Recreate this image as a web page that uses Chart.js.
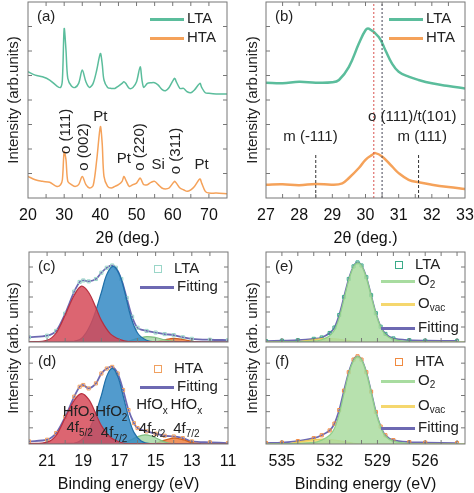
<!DOCTYPE html>
<html>
<head>
<script src="https://cdn.jsdelivr.net/npm/chart.js@4.4.1/dist/chart.umd.min.js"></script>
<style>
  body { margin: 0; background: #fff; font-family: "Liberation Sans", Arial, sans-serif; }
  #wrap { position: relative; width: 474px; height: 493px; overflow: hidden; }
  canvas { position: absolute; }
  .yt { position: absolute; font-size: 15px; color: #222; white-space: nowrap; transform: translate(-50%, -50%) rotate(-90deg); }
  .lg { position: absolute; font-size: 15px; color: #222; white-space: nowrap; line-height: 15px; }
  .ln { display: inline-block; width: 34px; height: 3px; vertical-align: middle; margin-right: 3px; }
  .sq { display: inline-block; width: 6px; height: 6px; border: 1.5px solid; vertical-align: middle; margin: 0 12px 0 14px; }
  sub { font-size: 10px; vertical-align: -3px; }
</style>
</head>
<body>
<div id="wrap"></div>
<script>
// ---- (a) XRD wide scan ----
const aX   = [20,22,24,26,28,29,29.5,30,30.5,31,32,33,34,35,36,37,38,39,40,40.5,41,42,43,44,45,46,46.5,47,48,49,50,51,51.5,52,53,54,55,56,57,58,59,60.5,61,62,63,64,65,66,67.5,68,69,70,72,75];
const aLTA = [64.4,62.7,61.9,60.2,57.1,56.4,60.2,86.4,75.4,61.0,57.1,56.4,58.5,65.3,59.3,56.4,58.5,65.3,73.7,68.6,60.2,56.4,55.9,55.9,57.1,58.5,59.3,58.5,55.9,56.4,59.3,66.9,60.2,56.4,58.5,58.8,58.8,57.6,55.4,54.7,56.4,61.0,59.3,55.9,55.9,54.2,53.7,55.1,58.5,56.4,53.7,53.4,53.1,53.1];
const aHTA = [11.0,9.3,8.5,8.0,5.9,6.8,9.3,23.7,19.5,8.5,6.8,5.9,6.8,11.0,6.8,5.1,6.3,19.5,36.4,28.0,11.0,5.9,5.1,5.9,6.8,8.5,11.0,9.3,5.9,6.8,7.6,10.2,8.5,6.8,6.8,8.0,8.5,6.8,5.1,4.6,5.1,8.5,7.6,5.1,4.2,3.4,4.2,5.9,9.7,7.6,3.4,2.5,2.5,2.2];
const aNotes = [
  {x:30.5, y:34, t:'o (111)', rot:true}, {x:35.5, y:26, t:'o (002)', rot:true},
  {x:40, y:41.5, t:'Pt'}, {x:46.5, y:20, t:'Pt'}, {x:51, y:26, t:'o (220)', rot:true},
  {x:56, y:17, t:'Si'}, {x:61, y:24, t:'o (311)', rot:true}, {x:68, y:17, t:'Pt'}
];

// ---- (b) XRD zoom ----
const bX_LTA = [27,27.5,28,28.5,29,29.2,29.5,29.8,30,30.1,30.4,30.6,30.8,31,31.3,31.6,32,32.5,33];
const bLTA   = [58.8,58.5,59.3,58.8,59.0,60.2,66.9,78.8,85.6,86.4,82.2,75.4,68.6,64.4,61.9,60.2,58.5,57.1,55.9];
const bX_HTA = [27,27.5,28,28.5,29,29.3,29.5,29.8,30,30.2,30.3,30.5,30.8,31,31.3,31.6,32,32.5,33];
const bHTA   = [6.8,7.0,6.5,7.2,6.8,7.5,10.2,15.3,19.5,22.0,22.9,21.2,16.1,12.7,9.3,8.0,6.8,5.6,4.6];
const bRefM  = [28.5, 31.6];   // m (-111), m (111)
const bRefO  = 30.25, bRefT = 30.5;
const bNotes = [
  {x:28.34, y:31.4, t:'m (-111)'}, {x:31.41, y:41.5, t:'o (111)/t(101)'}, {x:31.71, y:31.4, t:'m (111)'}
];

// ---- (c) Hf 4f LTA ----
const cX    = [22,21,20.5,20,19.5,19.2,19,18.7,18.3,18,17.7,17.4,17.2,16.9,16.6,16.3,16,15.5,15,14.5,14,13.5,13,12,11];
const cData = [5.3,7,12.3,31.6,56,66.7,68.4,67.4,70,77,82.5,85,82.5,70,49,28,15.8,12.3,10.5,8.8,7.7,5.3,3.5,2.5,2.1];
const cRedX = [22,21,20.5,20,19.5,19.1,18.7,18.3,18,17.5,17,16.5,11];
const cRed  = [0.3,2,10,30,52,62,55,38,24,9,3,0.5,0];
const cBluX = [22,19.5,19,18.5,18,17.7,17.35,17,16.7,16.4,16,15.5,15,11];
const cBlu  = [0,1,6,24,55,75,84,75,55,30,10,2,0.3,0];
const cGrnX = [17,16.5,16,15.5,15,14.5,14,13.5];
const cGrn  = [0,1,4,6,5,2.5,0.8,0];
const cOrgX = [15,14.5,14,13.5,13,12.5];
const cOrg  = [0.3,2.5,4,2.8,0.8,0];

// ---- (d) Hf 4f HTA ----
const dX    = [22,21,20.5,20,19.5,19.2,19,18.7,18.3,18,17.7,17.4,17.1,16.8,16.5,16.2,16,15.5,15,14.5,14,13.5,13,12,11];
const dData = [2.7,4.4,11.3,28,48.8,59,60.8,57.3,62.5,72.7,77.8,79.5,72.7,55.6,35,21.5,16.4,13,10.6,8.5,7.8,6.1,2.7,1.7,1];
const dRedX = [22,21,20.5,20,19.5,19.1,18.7,18.3,18,17.5,17,16.5,11];
const dRed  = [0.3,2,9,27,45,52,46,31,19,7,2,0.3,0];
const dBluX = [22,19.5,19,18.5,18,17.7,17.4,17.1,16.8,16.5,16.2,15.8,15.3,11];
const dBlu  = [0,1,6,22,50,70,78,70,50,28,12,3,0.3,0];
const dGrnX = [17,16.5,16,15.6,15.2,14.8,14.4,14];
const dGrn  = [0.5,3,7.5,9.5,8,4.5,1.5,0.3];
const dOrgX = [15,14.5,14,13.5,13,12.5];
const dOrg  = [0.5,4,6,4.5,1.5,0.2];
const dNotes = [
  {x:19.25, y:33, t:'HfO', s:'2'}, {x:19.2, y:17, t:'4f', s:'5/2'},
  {x:17.45, y:33, t:'HfO', s:'2'}, {x:17.3, y:11, t:'4f', s:'7/2'},
  {x:15.2, y:40, t:'HfO', s:'x'}, {x:15.2, y:16, t:'4f', s:'5/2'},
  {x:13.3, y:40, t:'HfO', s:'x'}, {x:13.3, y:16, t:'4f', s:'7/2'}
];

// ---- (e) O 1s LTA ----
const eX    = [536,535,534,533,532.5,532,531.7,531.4,531.1,530.8,530.5,530.25,530,529.7,529.4,529.1,528.8,528.5,528,527,526,524];
const eData = [1,1.5,2,3.5,5,10,16,30,50,70,84,88.4,85,72,52,32,17,9,4,2,1.5,1.2];
const eO2X  = [536,533,532.5,532,531.7,531.4,531.1,530.8,530.5,530.25,530,529.7,529.4,529.1,528.8,528.5,528,527,526,523.5];
const eO2   = [0,1,2.5,7,13,27,48,69,84,88,85,72,52,32,17,8,3,0.5,0,0];
const eVacX = [536,534,533,532.3,531.7,531,530.5,530,523.5];
const eVac  = [0,0.5,2.5,4,3.5,2,0.8,0.2,0];

// ---- (f) O 1s HTA ----
const fX    = [536,535,534,533,532.5,532,531.7,531.4,531.1,530.8,530.5,530.25,530,529.7,529.4,529.1,528.8,528.5,528,527,526,524];
const fData = [1,1.5,3,6,9,14,21,35,55,74,87,90.4,87,74,54,33,18,9,4,2,1.5,1];
const fO2X  = [536,533,532.5,532,531.7,531.4,531.1,530.8,530.5,530.25,530,529.7,529.4,529.1,528.8,528.5,528,527,526,523.5];
const fO2   = [0,1.5,4,9,16,31,52,73,86,90,87,74,54,33,18,8,3,0.5,0,0];
const fVacX = [536,534.5,534,533,532.3,531.7,531,530.5,530,523.5];
const fVac  = [0,0.5,2,4.5,5,4,2.2,0.8,0.2,0];

const GREEN = '#5bbd9c', ORANGE = '#f5a25a', PURPLE = '#6d69b2';
const pts = (xs, ys) => xs.map((x, i) => ({x, y: ys[i]}));
const line = (xs, ys, color, w) => ({data: pts(xs, ys), borderColor: color, borderWidth: w || 1.5, pointRadius: 0, tension: 0.3});
const area = (xs, ys, fill, edge) => ({data: pts(xs, ys), borderColor: edge, borderWidth: 1.2, backgroundColor: fill, fill: 'origin', pointRadius: 0, tension: 0.35});
const marks = (xs, ys, color) => ({data: pts(xs, ys), showLine: false, pointStyle: 'rect', pointRadius: 2.2, borderWidth: 1, borderColor: color, backgroundColor: 'rgba(0,0,0,0)'});

// frame + inward ticks + text notes
const framePlugin = {
  id: 'frame',
  afterDatasetsDraw(chart, args, o) {
    const c = chart.ctx, a = chart.chartArea, xs = chart.scales.x;
    c.save();
    c.strokeStyle = '#777'; c.lineWidth = 1;
    c.strokeRect(a.left, a.top, a.right - a.left, a.bottom - a.top);
    const tl = 4;
    for (let v = o.x0; v <= o.x1 + 1e-9; v += o.xStep) {
      const p = xs.getPixelForValue(v);
      if (p < a.left + 1 || p > a.right - 1) continue;
      c.beginPath();
      c.moveTo(p, a.bottom); c.lineTo(p, a.bottom - tl);
      if (o.topTicks) { c.moveTo(p, a.top); c.lineTo(p, a.top + tl); }
      c.stroke();
    }
    for (let i = 1; i < o.yN; i++) {
      const p = a.bottom - (a.bottom - a.top) * i / o.yN;
      c.beginPath(); c.moveTo(a.left, p); c.lineTo(a.left + tl, p);
      c.moveTo(a.right, p); c.lineTo(a.right - tl, p); c.stroke();
    }
    c.fillStyle = '#222'; c.textBaseline = 'middle';
    (o.notes || []).forEach(n => {
      const px = xs.getPixelForValue(n.x), py = chart.scales.y.getPixelForValue(n.y);
      c.save(); c.translate(px, py); if (n.rot) c.rotate(-Math.PI / 2);
      c.font = '15px "Liberation Sans", Arial';
      const w1 = c.measureText(n.t).width;
      c.font = '10px "Liberation Sans", Arial';
      const w2 = n.s ? c.measureText(n.s).width : 0;
      let x0 = -(w1 + w2) / 2;
      c.font = '15px "Liberation Sans", Arial'; c.textAlign = 'left';
      c.fillText(n.t, x0, 0);
      if (n.s) { c.font = '10px "Liberation Sans", Arial'; c.fillText(n.s, x0 + w1, 6); }
      c.restore();
    });
    if (o.tag) {
      c.font = '15px "Liberation Sans", Arial'; c.textAlign = 'left';
      c.fillText(o.tag, a.left + 9, a.top + 15);
    }
    c.restore();
  }
};

function panel(L, T, W, H, cfg) {
  const axisH = cfg.showX ? 50 : 0;
  const cv = document.createElement('canvas');
  cv.width = W + 40; cv.height = H + 20 + axisH;
  cv.style.left = (L - 20) + 'px'; cv.style.top = (T - 20) + 'px';
  document.getElementById('wrap').appendChild(cv);
  new Chart(cv, {
    type: 'line',
    data: {datasets: cfg.datasets},
    options: {
      responsive: false, animation: false,
      layout: {padding: {left: 20, right: 20, top: 20, bottom: 0}},
      plugins: {legend: {display: false}, tooltip: {enabled: false}, frame: cfg.frame},
      scales: {
        x: {
          type: 'linear', min: cfg.xmin, max: cfg.xmax, reverse: !!cfg.reverse,
          grid: {display: false, drawTicks: false}, border: {display: false},
          ticks: {display: !!cfg.showX, stepSize: cfg.xTick, padding: 8, color: '#111', font: {size: 16, family: '"Liberation Sans", Arial'},
                  callback: v => (cfg.tickVals.includes(v) ? v : '')},
          afterBuildTicks: s => { s.ticks = cfg.tickVals.map(v => ({value: v})); },
          title: {display: !!cfg.showX, text: cfg.xTitle, color: '#111', padding: {top: 0, bottom: 0}, font: {size: 16, family: '"Liberation Sans", Arial'}},
          afterFit: s => { s.height = axisH; }
        },
        y: {display: false, min: 0, max: 100}
      }
    },
    plugins: [framePlugin]
  });
}

// (a)
panel(28, 2, 199, 196, {
  xmin: 20, xmax: 75, tickVals: [20,30,40,50,60,70], showX: true, xTitle: '2θ (deg.)',
  frame: {x0: 20, x1: 75, xStep: 5, topTicks: true, yN: 8, notes: aNotes, tag: '(a)'},
  datasets: [line(aX, aLTA, GREEN), line(aX, aHTA, ORANGE)]
});
// (b)
const vline = (x, y0, y1, color, dash) => ({data: [{x, y: y0}, {x, y: y1}], borderColor: color, borderWidth: 1, borderDash: dash, pointRadius: 0});
panel(266, 2, 199, 196, {
  xmin: 27, xmax: 33, tickVals: [27,28,29,30,31,32,33], showX: true, xTitle: '2θ (deg.)',
  frame: {x0: 27, x1: 33, xStep: 0.5, topTicks: true, yN: 8, notes: bNotes, tag: '(b)'},
  datasets: [
    vline(bRefM[0], 0, 22.9, '#333', [3, 2]), vline(bRefM[1], 0, 22.9, '#333', [3, 2]),
    vline(bRefO, 0, 100, '#d9534f', [2, 2]), vline(bRefT, 0, 100, '#445', [2, 2]),
    Object.assign(line(bX_LTA, bLTA, GREEN, 2.5), {tension: 0.4}),
    Object.assign(line(bX_HTA, bHTA, ORANGE, 2.5), {tension: 0.4})
  ]
});
// (c)
const RED = 'rgba(214,74,88,0.85)', BLUE = 'rgba(52,138,196,0.85)', LGRN = 'rgba(160,214,160,0.8)', ORG = 'rgba(238,128,64,0.85)';
panel(29, 252, 199, 95, {
  xmin: 11, xmax: 22, reverse: true, tickVals: [21,19,17,15,13,11], showX: false,
  frame: {x0: 11, x1: 22, xStep: 1, topTicks: true, yN: 6, tag: '(c)'},
  datasets: [
    area(cRedX, cRed, RED, '#b83040'), area(cBluX, cBlu, BLUE, '#1f6fa8'),
    area(cGrnX, cGrn, LGRN, '#7fbf80'), area(cOrgX, cOrg, ORG, '#d06020'),
    marks(cX, cData, '#9ad6c8'), line(cX, cData, PURPLE, 1.8)
  ]
});
// (d)
panel(29, 347, 199, 97, {
  xmin: 11, xmax: 22, reverse: true, tickVals: [21,19,17,15,13,11], showX: true, xTitle: 'Binding energy (eV)',
  frame: {x0: 11, x1: 22, xStep: 1, topTicks: false, yN: 6, notes: dNotes, tag: '(d)'},
  datasets: [
    area(dRedX, dRed, RED, '#b83040'), area(dBluX, dBlu, BLUE, '#1f6fa8'),
    area(dGrnX, dGrn, LGRN, '#7fbf80'), area(dOrgX, dOrg, ORG, '#d06020'),
    marks(dX, dData, '#f0a060'), line(dX, dData, PURPLE, 1.8)
  ]
});
// (e)
const O2F = 'rgba(170,220,160,0.85)', VACF = 'rgba(245,215,110,0.85)';
panel(266, 252, 199, 95, {
  xmin: 523.5, xmax: 536, reverse: true, tickVals: [535,532,529,526], showX: false,
  frame: {x0: 524, x1: 536, xStep: 1, topTicks: true, yN: 6, tag: '(e)'},
  datasets: [
    area(eO2X, eO2, O2F, '#8fcf88'), area(eVacX, eVac, VACF, '#eccb55'),
    marks(eX, eData, '#3aaa88'), line(eX, eData, PURPLE, 1.8)
  ]
});
// (f)
panel(266, 347, 199, 97, {
  xmin: 523.5, xmax: 536, reverse: true, tickVals: [535,532,529,526], showX: true, xTitle: 'Binding energy (eV)',
  frame: {x0: 524, x1: 536, xStep: 1, topTicks: false, yN: 6, tag: '(f)'},
  datasets: [
    area(fO2X, fO2, O2F, '#8fcf88'), area(fVacX, fVac, VACF, '#eccb55'),
    marks(fX, fData, '#f08a40'), line(fX, fData, PURPLE, 1.8)
  ]
});

// axis titles and legends (HTML)
const wrap = document.getElementById('wrap');
function addHTML(cls, x, y, html) {
  const d = document.createElement('div'); d.className = cls;
  d.style.left = x + 'px'; d.style.top = y + 'px'; d.innerHTML = html; wrap.appendChild(d);
}
addHTML('yt', 12, 100, 'Intensity (arb.units)');
addHTML('yt', 251, 100, 'Intensity (arb.units)');
addHTML('yt', 12, 348, 'Intensity (arb. units)');
addHTML('yt', 251, 348, 'Intensity (arb. units)');
const ln = c => `<span class="ln" style="background:${c}"></span>`;
const sq = c => `<span class="sq" style="border-color:${c}"></span>`;
addHTML('lg', 150, 10, ln(GREEN) + 'LTA');
addHTML('lg', 150, 29, ln(ORANGE) + 'HTA');
addHTML('lg', 389, 10, ln(GREEN) + 'LTA');
addHTML('lg', 389, 29, ln(ORANGE) + 'HTA');
addHTML('lg', 140, 260, sq('#9ad6c8') + 'LTA');
addHTML('lg', 140, 278, ln(PURPLE) + 'Fitting');
addHTML('lg', 140, 360, sq('#f0a060') + 'HTA');
addHTML('lg', 140, 378, ln(PURPLE) + 'Fitting');
addHTML('lg', 381, 256, sq('#3aaa88') + 'LTA');
addHTML('lg', 381, 272, ln('#a8dca0') + 'O<sub>2</sub>');
addHTML('lg', 381, 295, ln('#f5d76e') + 'O<sub>vac</sub>');
addHTML('lg', 381, 319, ln(PURPLE) + 'Fitting');
addHTML('lg', 381, 353, sq('#f08a40') + 'HTA');
addHTML('lg', 381, 372, ln('#a8dca0') + 'O<sub>2</sub>');
addHTML('lg', 381, 397, ln('#f5d76e') + 'O<sub>vac</sub>');
addHTML('lg', 381, 419, ln(PURPLE) + 'Fitting');
</script>
</body>
</html>
